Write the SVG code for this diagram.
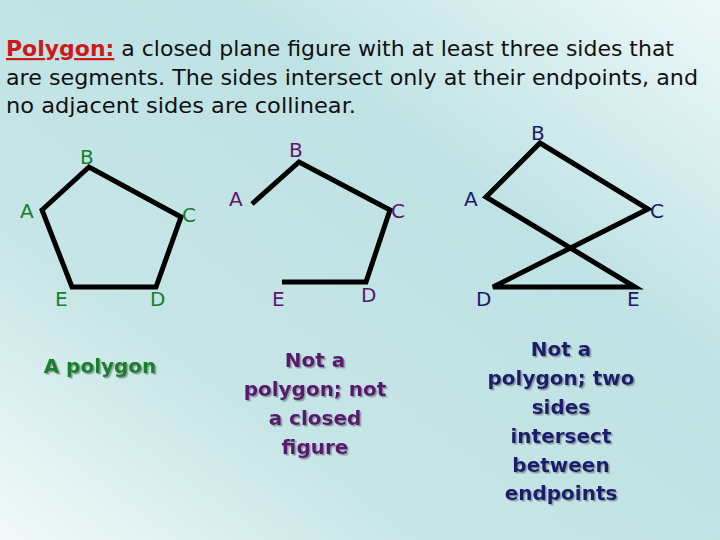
<svg xmlns="http://www.w3.org/2000/svg" width="720" height="540" viewBox="0 0 720 540">
<defs>
<linearGradient id="bg" x1="1" y1="0" x2="0" y2="1">
<stop offset="0" stop-color="#eef8f8"/><stop offset="0.35" stop-color="#bfe2e4"/><stop offset="0.7" stop-color="#c6e5e6"/><stop offset="1" stop-color="#f2f9f9"/>
</linearGradient>
<filter id="sh"><feDropShadow dx="1.5" dy="1.5" stdDeviation="0.6" flood-color="#7a8a8a" flood-opacity="0.8"/></filter>
</defs>
<style>
.t{font-family:"DejaVu Sans",sans-serif;font-size:22px;fill:#111}
.lbl{font-family:"DejaVu Sans",sans-serif;font-size:20px}
.g{fill:#16802a}.p{fill:#5a1670}.n{fill:#1a1a6e}
.cap{font-family:"DejaVu Sans",sans-serif;font-size:20px;font-weight:bold;text-anchor:middle;filter:url(#sh)}
.ln{fill:none;stroke:#000;stroke-width:5;stroke-linejoin:miter}
</style>
<rect width="720" height="540" fill="url(#bg)"/>
<text class="t" x="6" y="56" textLength="668" lengthAdjust="spacingAndGlyphs"><tspan fill="#d01818" font-weight="bold" text-decoration="underline">Polygon:</tspan> a closed plane figure with at least three sides that</text>
<text class="t" x="6" y="85" textLength="692" lengthAdjust="spacingAndGlyphs">are segments. The sides intersect only at their endpoints, and</text>
<text class="t" x="6" y="113" textLength="350" lengthAdjust="spacingAndGlyphs">no adjacent sides are collinear.</text>
<g id="connectors">
<polygon class="ln" points="42,210 89,167 181,217 156,287 72,287"/>
<polyline class="ln" points="252,204 299,162 390,210 366,282 282,282"/>
<polygon class="ln" points="486,197 540,143 648,209 493,287 635,287"/>
</g>
<g id="fig1" class="lbl g">
<text x="80" y="164">B</text><text x="20" y="218">A</text><text x="182" y="222">C</text><text x="55" y="306">E</text><text x="150" y="306">D</text>
<text class="cap g" x="100" y="373">A polygon</text>
</g>
<g id="fig2" class="lbl p">
<text x="289" y="157">B</text><text x="229" y="206">A</text><text x="391" y="218">C</text><text x="272" y="306">E</text><text x="361" y="302">D</text>
<text class="cap p" x="315" y="367">Not a</text><text class="cap p" x="315" y="396">polygon; not</text><text class="cap p" x="315" y="425">a closed</text><text class="cap p" x="315" y="454">figure</text>
</g>
<g id="fig3" class="lbl n">
<text x="531" y="140">B</text><text x="464" y="206">A</text><text x="650" y="218">C</text><text x="476" y="306">D</text><text x="627" y="306">E</text>
<text class="cap n" x="561" y="356">Not a</text><text class="cap n" x="561" y="385">polygon; two</text><text class="cap n" x="561" y="414">sides</text><text class="cap n" x="561" y="443">intersect</text><text class="cap n" x="561" y="472">between</text><text class="cap n" x="561" y="500">endpoints</text>
</g>
</svg>
